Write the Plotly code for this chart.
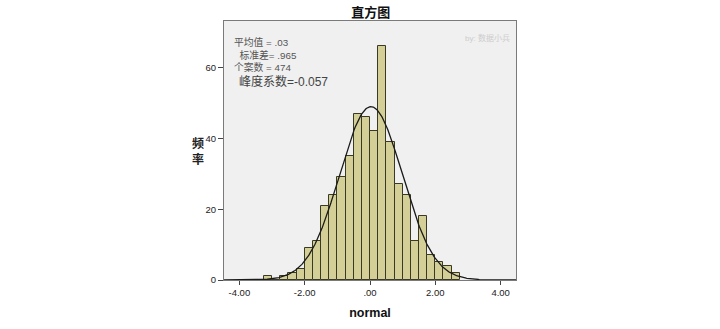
import numpy as np
import plotly.graph_objects as go

# Histogram data (bin centres, width 0.25)
bin_centers = [-3.125, -2.875, -2.625, -2.375, -2.125, -1.875, -1.625, -1.375,
               -1.125, -0.875, -0.625, -0.375, -0.125, 0.125, 0.375, 0.625,
               0.875, 1.125, 1.375, 1.625, 1.875, 2.125, 2.375, 2.625]
counts = [1, 0, 1, 2, 3, 9, 11, 21, 24, 29, 35, 47, 46, 42, 66, 39,
          27, 24, 11, 18, 7, 5, 4, 2]
bin_width = 0.25
mean_val = 0.03
std_val = 0.965
n_cases = 474
x_tick_vals = [-4, -2, 0, 2, 4]
x_tick_text = ["-4.00", "-2.00", ".00", "2.00", "4.00"]
y_tick_vals = [0, 20, 40, 60]

x_range = [-4.47, 4.47]
y_range = [0, 73.2]

# fitted normal curve from displayed statistics
xs = np.linspace(x_range[0], x_range[1], 400)
ys = n_cases * bin_width / (std_val * np.sqrt(2 * np.pi)) * np.exp(-0.5 * ((xs - mean_val) / std_val) ** 2)

fig = go.Figure()
fig.add_trace(go.Bar(
    x=bin_centers, y=counts, width=bin_width,
    marker=dict(color="#d4cf97", line=dict(color="#3a3a24", width=1)),
    showlegend=False, hoverinfo="x+y",
))
fig.add_trace(go.Scatter(
    x=xs, y=ys, mode="lines", line=dict(color="#1a1a1a", width=1.3),
    showlegend=False, hoverinfo="skip",
))

cjk = "Liberation Sans, Noto Sans CJK SC, sans-serif"

fig.update_layout(
    width=720, height=329,
    margin=dict(l=224, r=204, t=21, b=46),
    paper_bgcolor="white",
    plot_bgcolor="#f0f0f0",
    bargap=0,
    font=dict(family=cjk, color="#222222", size=10),
    title=dict(text="<b>直方图</b>", x=0.515, xanchor="center", y=0.963, yanchor="middle",
               font=dict(family="Noto Sans CJK SC, sans-serif", size=13, color="#111111")),
    xaxis=dict(range=x_range, tickvals=x_tick_vals, ticktext=x_tick_text,
               showgrid=False, zeroline=False, showline=True, mirror=True,
               linecolor="#7a7a7a", linewidth=1, ticks="outside", ticklen=4,
               tickcolor="#444444", tickfont=dict(size=9.5, color="#222222"),
               title=dict(text="<b>normal</b>", font=dict(size=12.5, color="#111111"), standoff=10)),
    yaxis=dict(range=y_range, tickvals=y_tick_vals, showgrid=False, zeroline=False,
               showline=True, mirror=True, linecolor="#7a7a7a", linewidth=1,
               ticks="outside", ticklen=5, tickcolor="#444444",
               tickfont=dict(size=9.5, color="#222222")),
)

# y axis title stacked vertically
fig.add_annotation(text="<b>频<br>率</b>", xref="paper", yref="paper",
                   x=-0.088, y=0.50, xanchor="center", yanchor="middle", showarrow=False,
                   font=dict(family="Noto Sans CJK SC, sans-serif", size=12, color="#222222"))

# statistics text, one block so the lines sit tightly like the reference
stat_lines = ["平均值 = .03", "&nbsp;&nbsp;标准差= .965", "个案数 = 474"]
fig.add_annotation(text="<br>".join(stat_lines), xref="paper", yref="paper",
                   x=0.026, y=0.872, xanchor="left", yanchor="middle", align="left",
                   showarrow=False, font=dict(family=cjk, size=9.8, color="#555555"))
fig.add_annotation(text="峰度系数=-0.057", xref="paper", yref="paper", x=0.046, y=0.767,
                   xanchor="left", yanchor="middle", showarrow=False,
                   font=dict(family=cjk, size=12, color="#444444"))
fig.add_annotation(text="by: 数据小兵", xref="paper", yref="paper", x=0.985, y=0.935,
                   xanchor="right", yanchor="middle", showarrow=False,
                   font=dict(family=cjk, size=8, color="#cdcdcd"))

fig.write_html("out.html")
